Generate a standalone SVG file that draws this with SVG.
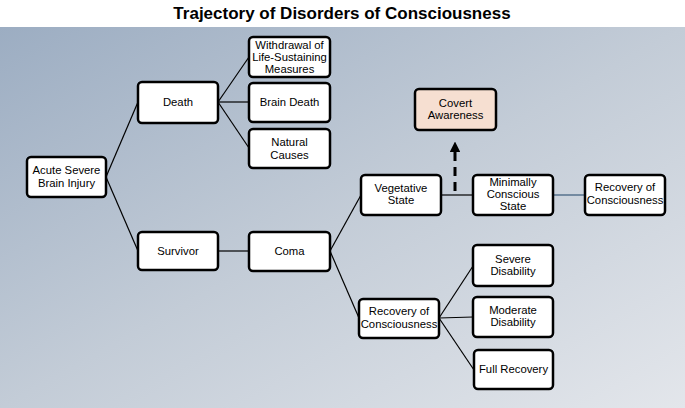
<svg xmlns="http://www.w3.org/2000/svg" width="685" height="408" viewBox="0 0 685 408">
<defs>
<linearGradient id="bg" x1="0" y1="0" x2="1" y2="1">
<stop offset="0" stop-color="#9cadc2"/><stop offset="0.5" stop-color="#c3ccd7"/><stop offset="1" stop-color="#e3e6eb"/>
</linearGradient>
<marker id="ah" viewBox="0 0 10 10" refX="4" refY="5" markerWidth="3.6" markerHeight="3.6" orient="auto"><path d="M0,0 L10,5 L0,10 Z" fill="#000"/></marker>
<style>
.n rect{fill:#fff;stroke:#000;stroke-width:2.5}
.n text{font-family:"Liberation Sans",Arial,sans-serif;font-size:11.3px;text-anchor:middle;fill:#000}
#c line{stroke:#000;stroke-width:1.2}
</style>
</defs>
<rect width="685" height="408" fill="#fff"/>
<rect x="0" y="27" width="685" height="381" fill="url(#bg)"/>
<text x="342" y="19" font-family="Liberation Sans,Arial,sans-serif" font-size="17" font-weight="bold" text-anchor="middle">Trajectory of Disorders of Consciousness</text>
<g id="c">
<line x1="106" y1="177" x2="138" y2="102"/>
<line x1="106" y1="177" x2="138" y2="251"/>
<line x1="218" y1="102" x2="249" y2="57"/>
<line x1="218" y1="102" x2="249" y2="102"/>
<line x1="218" y1="102" x2="249" y2="148"/>
<line x1="218" y1="251" x2="249" y2="251"/>
<line x1="330" y1="251" x2="361" y2="195"/>
<line x1="330" y1="251" x2="359" y2="318"/>
<line x1="441" y1="195" x2="473" y2="195"/>
<line x1="553" y1="195" x2="585" y2="195" style="stroke:#3a5a7a"/>
<line x1="439" y1="318" x2="473" y2="266"/>
<line x1="439" y1="318" x2="473" y2="317"/>
<line x1="439" y1="318" x2="474" y2="370"/>
<line x1="455" y1="191" x2="455" y2="148" style="stroke-width:3;stroke-dasharray:9,6" marker-end="url(#ah)"/>
</g>
<g id="acute" class="n"><rect x="27" y="157" width="79" height="40" rx="4"/><text x="66.5" y="174">Acute Severe</text><text x="66.5" y="187">Brain Injury</text></g>
<g id="death" class="n"><rect x="138" y="82" width="80" height="41" rx="4"/><text x="178" y="106">Death</text></g>
<g id="survivor" class="n"><rect x="138" y="232" width="80" height="38" rx="4"/><text x="178" y="255">Survivor</text></g>
<g id="withdrawal" class="n"><rect x="249" y="37" width="81" height="40" rx="4"/><text x="289.5" y="49">Withdrawal of</text><text x="289.5" y="61">Life-Sustaining</text><text x="289.5" y="73">Measures</text></g>
<g id="braindeath" class="n"><rect x="249" y="83" width="81" height="39" rx="4"/><text x="289.5" y="106">Brain Death</text></g>
<g id="natural" class="n"><rect x="249" y="129" width="81" height="39" rx="4"/><text x="289.5" y="146">Natural</text><text x="289.5" y="159">Causes</text></g>
<g id="coma" class="n"><rect x="249" y="232" width="81" height="39" rx="4"/><text x="289.5" y="255">Coma</text></g>
<g id="covert" class="n"><rect x="415" y="89" width="81" height="41" rx="4" style="fill:#f6dfd1"/><text x="455.5" y="107">Covert</text><text x="455.5" y="119">Awareness</text></g>
<g id="vegetative" class="n"><rect x="361" y="175" width="80" height="40" rx="4"/><text x="401" y="192">Vegetative</text><text x="401" y="204">State</text></g>
<g id="mcs" class="n"><rect x="473" y="175" width="80" height="40" rx="4"/><text x="513" y="186">Minimally</text><text x="513" y="198">Conscious</text><text x="513" y="210">State</text></g>
<g id="recovery1" class="n"><rect x="585" y="175" width="80" height="40" rx="4"/><text x="625" y="191">Recovery of</text><text x="625" y="204">Consciousness</text></g>
<g id="severe" class="n"><rect x="473" y="245" width="80" height="41" rx="4"/><text x="513" y="263">Severe</text><text x="513" y="275">Disability</text></g>
<g id="moderate" class="n"><rect x="473" y="297" width="80" height="40" rx="4"/><text x="513" y="314">Moderate</text><text x="513" y="326">Disability</text></g>
<g id="full" class="n"><rect x="474" y="350" width="79" height="39" rx="4"/><text x="513.5" y="373">Full Recovery</text></g>
<g id="recovery2" class="n"><rect x="359" y="299" width="80" height="39" rx="4"/><text x="399" y="315">Recovery of</text><text x="399" y="328">Consciousness</text></g>
</svg>
